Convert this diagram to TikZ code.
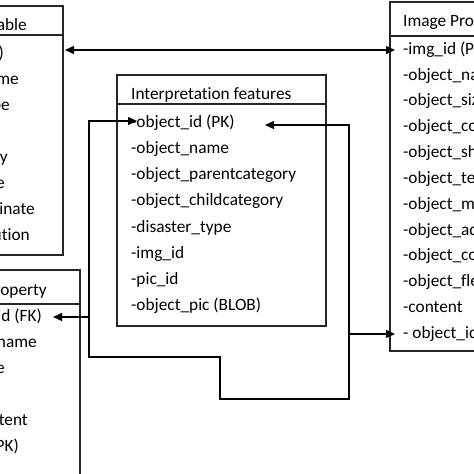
\documentclass[tikz,border=0pt]{standalone}
\usepackage{fontspec}
\setmainfont{Carlito}[Ligatures={NoCommon,NoRare}]
\usetikzlibrary{arrows.meta}
\begin{document}
\begin{tikzpicture}[x=1pt,y=-1pt,
  boxline/.style={draw=black!85, line width=1.1pt},
  txt/.style={inner sep=0pt, font=\fontsize{17.3}{20}\selectfont, text height=11.5pt, text depth=3.5pt},
  lt/.style={txt, anchor=west},
  rt/.style={txt, anchor=east},
  conn/.style={line width=1.3pt, draw=black},
  tipx/.tip={Triangle[length=9pt,width=8pt]}
]
\useasboundingbox (0,0) rectangle (474,474);
\clip (0,0) rectangle (474,474);
\fill[white] (0,0) rectangle (474,474);

% ---- Image table (top left) ----
\draw[boxline] (-140,6) rectangle (63,255);
\draw[boxline] (-140,35) -- (63,35);
\node[rt] (t0) at (27,26) {Image table};
\node[rt] (t1) at (4,54) {-img\_id (PK)};
\node[rt] (t2) at (19,80) {-img\_filename};
\node[rt] (t3) at (10,106) {-img\_filetype};
\node[rt] (t4) at (-10,132) {-img\_size};
\node[rt] (t5) at (8,158) {-img\_quality};
\node[rt] (t6) at (5,184) {-img\_source};
\node[rt] (t7) at (35,210) {-img\_coordinate};
\node[rt] (t8) at (30,236) {-img\_resolution};

% ---- Image property (bottom left) ----
\draw[boxline] (-140,270) rectangle (80,540);
\draw[boxline] (-140,304) -- (80,304);
\node[rt] (p0) at (47,291) {Image property};
\node[rt] (p1) at (42,317) {-object\_id (FK)};
\node[rt] (p2) at (37,343) {-object\_name};
\node[rt] (p3) at (5,369) {-pic\_type};
\node[rt] (p4) at (-8,395) {-pic\_url};
\node[rt] (p5) at (28,421) {-pic\_content};
\node[rt] (p6) at (19,447) {-pic\_id (PK)};

% ---- Interpretation features (centre) ----
\draw[boxline] (117,75) rectangle (326,326);
\draw[boxline] (117,104) -- (326,104);
\node[lt] (i0) at (131,95) {Interpretation features};
\node[lt] (i1) at (131,123) {-object\_id (PK)};
\node[lt] (i2) at (131,149) {-object\_name};
\node[lt] (i3) at (131,175) {-object\_parentcategory};
\node[lt] (i4) at (131,201) {-object\_childcategory};
\node[lt] (i5) at (131,228) {-disaster\_type};
\node[lt] (i6) at (131,254) {-img\_id};
\node[lt] (i7) at (131,280) {-pic\_id};
\node[lt] (i8) at (131,306) {-object\_pic (BLOB)};

% ---- Image Property (right) ----
\draw[boxline] (390,2) rectangle (600,351);
\draw[boxline] (390,36) -- (600,36);
\node[lt] (r0) at (403,22) {Image Property};
\node[lt] (r1) at (403,50) {-img\_id (PK)};
\node[lt] (r2) at (403,76) {-object\_name};
\node[lt] (r3) at (403,101) {-object\_size};
\node[lt] (r4) at (403,127) {-object\_color};
\node[lt] (r5) at (403,153) {-object\_shape};
\node[lt] (r6) at (403,179) {-object\_texture};
\node[lt] (r7) at (403,205) {-object\_material};
\node[lt] (r8) at (403,231) {-object\_adjacency};
\node[lt] (r9) at (403,256) {-object\_context};
\node[lt] (r10) at (403,282) {-object\_flexibility};
\node[lt] (r11) at (403,308) {-content};
\node[lt] (r12) at (403,334) {- object\_id (FK)};

% ---- connectors ----
\coordinate (tA) at (65,50);
\coordinate (tB) at (395,50);
\draw[conn, tipx-tipx] (tA) -- (tB);

\coordinate (pkR) at (265,125);
\coordinate (jR) at (349,334);
\coordinate (fkR) at (395,334);
\draw[conn, tipx-tipx] (pkR) -- (349,125) -- (jR) -- (fkR);

\coordinate (pkL) at (137,121);
\coordinate (jL) at (89,317);
\coordinate (fkL) at (53,317);
\draw[conn, tipx-] (pkL) -- (89,121) -- (jL) -- (89,357) -- (220,357) -- (220,399) -- (349,399) -- (jR);
\draw[conn, -tipx] (jL) -- (fkL);
\end{tikzpicture}
\end{document}
